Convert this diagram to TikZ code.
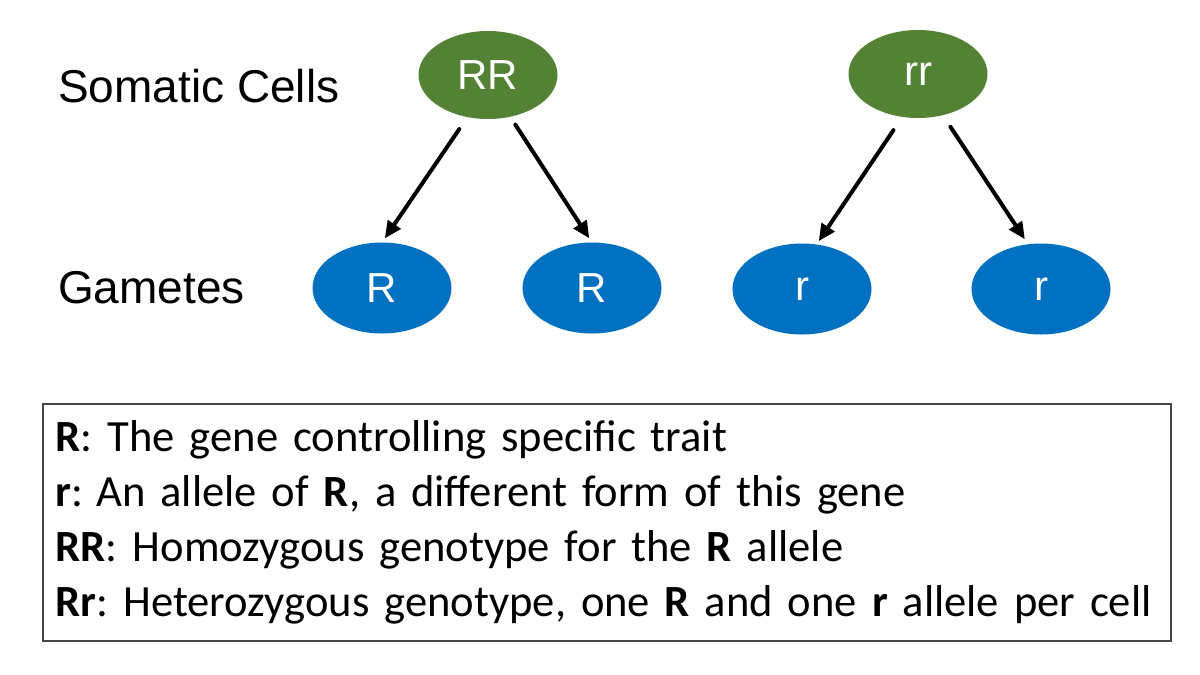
\documentclass[tikz,border=0pt]{standalone}
\usepackage{fontspec}
\setmainfont{Carlito}[WordSpace=0.85]
\newfontfamily\labelfont{Liberation Sans}
\usetikzlibrary{arrows.meta,shapes.geometric}
\definecolor{cellgreen}{RGB}{84,130,53}
\definecolor{gameteblue}{RGB}{0,112,192}
\definecolor{boxgray}{RGB}{70,70,70}

\begin{document}
\begin{tikzpicture}[x=1pt,y=-1pt,
	cell/.style={ellipse,fill=#1,minimum width=139pt,inner sep=0pt,outer sep=0pt,
		text=white,font=\labelfont\fontsize{42}{42}\selectfont},
	somatic/.style={cell=cellgreen,minimum height=88pt},
	gamete/.style={cell=gameteblue,minimum height=91pt},
	rowlabel/.style={anchor=base west,inner sep=0pt,font=\labelfont\fontsize{46}{46}\selectfont},
	meiosis/.style={-{Triangle[length=17pt,width=15pt]},line width=4pt,line cap=round}]
	\path[fill=white,use as bounding box] (0,0) rectangle (1200,675);
	% row labels
	\node[rowlabel] (somlabel) at (58,102) {Somatic Cells};
	\node[rowlabel] (gamlabel) at (58,303) {Gametes};
	% cells
	\node[somatic] (RRcell) at (488,75) {RR};
	\node[somatic] (rrcell) at (918,74) {rr};
	\node[gamete]  (Rone)   at (382,288) {R};
	\node[gamete]  (Rtwo)   at (592,288) {R};
	\node[gamete]  (rone)   at (802,289) {r};
	\node[gamete]  (rtwo)   at (1041,289) {r};
	\draw[meiosis,shorten <=14.5pt,shorten >=5pt] (RRcell.244) -- (Rone.north);
	\draw[meiosis,shorten <=9.5pt,shorten >=5pt]  (RRcell.298) -- (Rtwo.north);
	\draw[meiosis,shorten <=16pt,shorten >=4pt]   (rrcell.250) -- (rone.72);
	\draw[meiosis,shorten <=14pt,shorten >=6pt]   (rrcell.301) -- (rtwo.106);
	% legend
	\node[draw=boxgray,line width=1.5pt,anchor=north west,
	minimum width=1128pt,minimum height=237pt,inner xsep=13pt,inner ysep=0pt,
	text width=1102pt,align=left,font=\frenchspacing\fontsize{44.6}{55}\selectfont] (legend) at (42,403)
	{\textbf{R}: The gene controlling specific trait\\
		\textbf{r}:\hspace{13pt}An allele of \textbf{R}, a different form of this gene\\
		\textbf{RR}: Homozygous genotype for the \textbf{R} allele\\
		\mbox{\textbf{Rr}: Heterozygous genotype, one \textbf{R} and one \textbf{r} allele per cell}};
\end{tikzpicture}
\end{document}
